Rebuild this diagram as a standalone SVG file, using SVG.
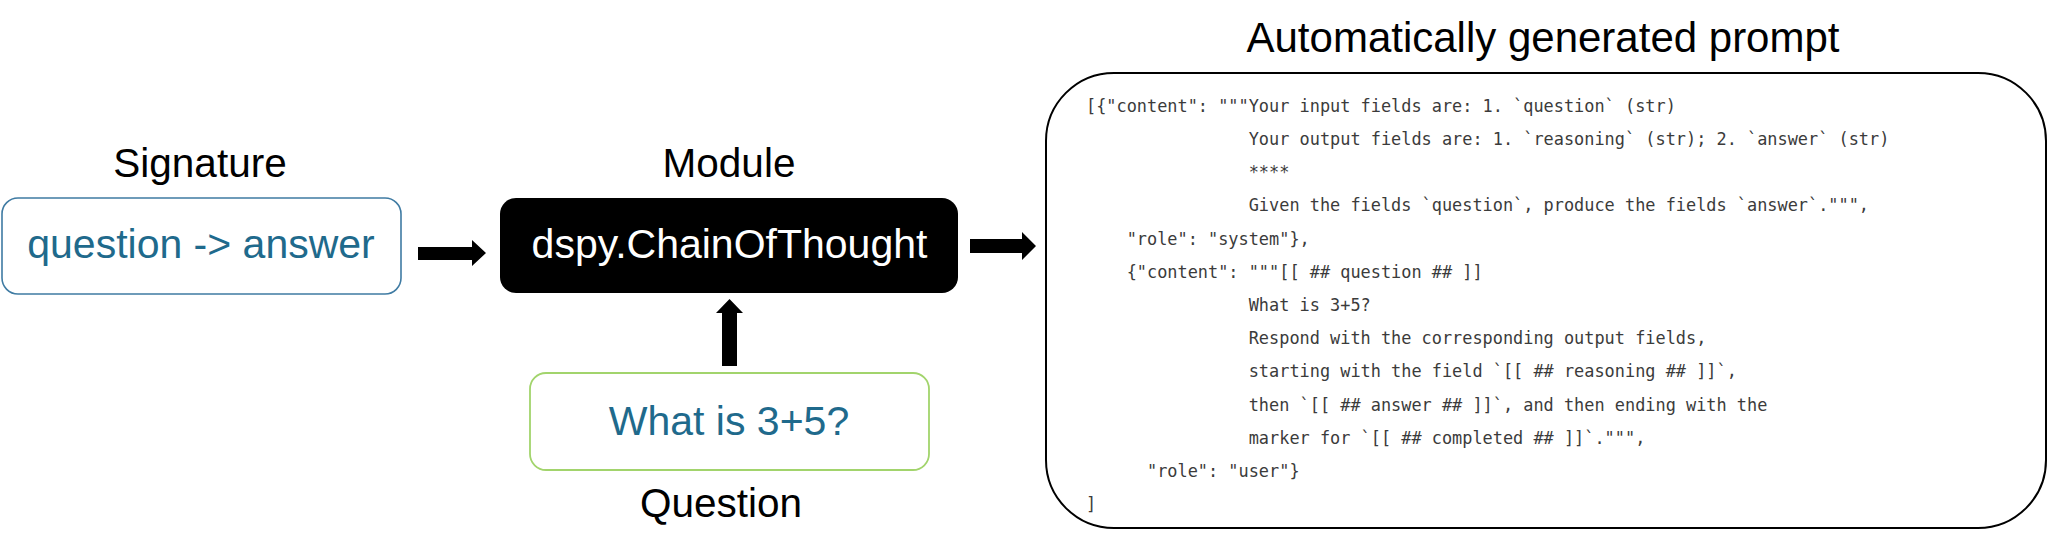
<svg xmlns="http://www.w3.org/2000/svg" width="2048" height="554" viewBox="0 0 2048 554">
<style>
.lbl{font-family:"Liberation Sans",Arial,sans-serif;font-size:40.5px;fill:#000;text-anchor:middle}
.title{font-family:"Liberation Sans",Arial,sans-serif;font-size:42px;fill:#000;text-anchor:middle}
.inner{font-family:"Liberation Sans",Arial,sans-serif;font-size:41px;text-anchor:middle}
.blue{fill:#1F6A8C}
.code{font-family:"DejaVu Sans Mono","Liberation Mono",monospace;font-size:16.9px;fill:#3b3b3b;white-space:pre}
.arrow{fill:#000}
</style>
<rect width="2048" height="554" fill="#fff"/>
<g id="signature">
<text class="lbl" x="200" y="177">Signature</text>
<rect x="2" y="198" width="399" height="96" rx="16" fill="#fff" stroke="#3F7BA3" stroke-width="1.6"/>
<text class="inner blue" x="201" y="258">question -&gt; answer</text>
</g>
<g id="module">
<text class="lbl" x="729" y="177">Module</text>
<rect x="500" y="198" width="458" height="95" rx="16" fill="#000"/>
<text class="inner" x="729.5" y="258" fill="#fff">dspy.ChainOfThought</text>
</g>
<g id="question">
<rect x="530" y="373" width="399" height="97" rx="16" fill="#fff" stroke="#A2D46C" stroke-width="1.8"/>
<text class="inner blue" x="729" y="435">What is 3+5?</text>
<text class="lbl" x="721" y="517">Question</text>
</g>
<g id="prompt">
<text class="title" x="1543" y="52">Automatically generated prompt</text>
<rect x="1046" y="73" width="1000" height="455" rx="68" fill="#fff" stroke="#000" stroke-width="2"/>
<text class="code" x="1086" y="112">[{"content": """Your input fields are: 1. `question` (str)</text>
<text class="code" x="1086" y="145">                Your output fields are: 1. `reasoning` (str); 2. `answer` (str)</text>
<text class="code" x="1086" y="178">                ****</text>
<text class="code" x="1086" y="211">                Given the fields `question`, produce the fields `answer`.""",</text>
<text class="code" x="1086" y="245">    "role": "system"},</text>
<text class="code" x="1086" y="278">    {"content": """[[ ## question ## ]]</text>
<text class="code" x="1086" y="311">                What is 3+5?</text>
<text class="code" x="1086" y="344">                Respond with the corresponding output fields,</text>
<text class="code" x="1086" y="377">                starting with the field `[[ ## reasoning ## ]]`,</text>
<text class="code" x="1086" y="411">                then `[[ ## answer ## ]]`, and then ending with the</text>
<text class="code" x="1086" y="444">                marker for `[[ ## completed ## ]]`.""",</text>
<text class="code" x="1086" y="477">      "role": "user"}</text>
<text class="code" x="1086" y="510">]</text>
</g>
<g id="connectors">
<polygon class="arrow" points="418,247 472,247 472,240 486,253 472,266 472,260 418,260"/>
<polygon class="arrow" points="970,239 1022,239 1022,232 1036,246 1022,260 1022,253 970,253"/>
<polygon class="arrow" points="722,366 722,313 716,313 729.5,299 743,313 737,313 737,366"/>
</g>
</svg>
